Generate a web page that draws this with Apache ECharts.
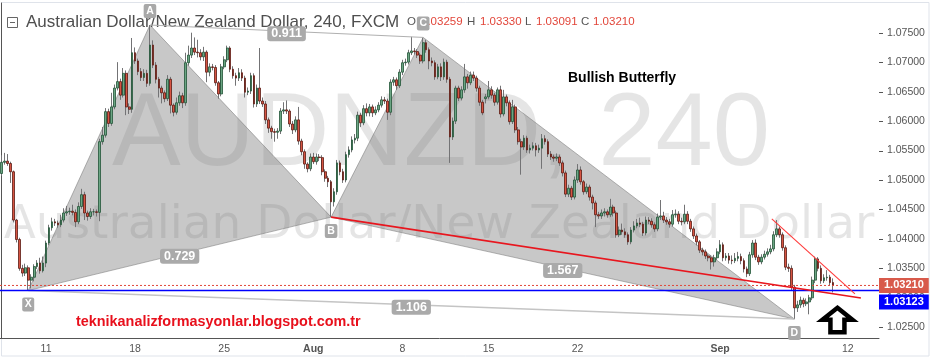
<!DOCTYPE html>
<html><head><meta charset="utf-8">
<script src="https://cdn.jsdelivr.net/npm/echarts@6/dist/echarts.min.js"></script>
<style>html,body{margin:0;padding:0;background:#fff}#c{width:935px;height:358px}</style>
</head><body><div id="c"></div>
<script>
// ---------- data ----------
const tickLabels = ['11','18','25','Aug','8','15','22','Sep','12'];
const tickAt = [15,45,75,105,135,164,194,242,285];
const slotCount = 296;
const priceTicks = [1.025,1.030,1.035,1.040,1.045,1.050,1.055,1.060,1.065,1.070,1.075];

const opens = [
1.0511,1.0530,1.0532,1.0528,1.0514,1.0432,1.0399,1.0350,1.0342,1.0351,
1.0330,1.0335,1.0353,1.0359,1.0346,1.0359,1.0393,1.0419,1.0429,1.0427,
1.0424,1.0432,1.0444,1.0446,1.0447,1.0445,1.0429,1.0455,1.0475,1.0444,
1.0438,1.0446,1.0446,1.0445,1.0565,1.0576,1.0616,1.0596,1.0624,1.0656,
1.0667,1.0644,1.0681,1.0624,1.0620,1.0716,1.0702,1.0684,1.0674,1.0681,
1.0664,1.0729,1.0695,1.0671,1.0656,1.0648,1.0638,1.0671,1.0627,1.0615,
1.0631,1.0643,1.0631,1.0699,1.0712,1.0724,1.0717,1.0716,1.0709,1.0717,
1.0683,1.0692,1.0691,1.0665,1.0646,1.0692,1.0704,1.0724,1.0688,1.0677,
1.0673,1.0682,1.0673,1.0649,1.0651,1.0677,1.0629,1.0656,1.0634,1.0629,
1.0602,1.0588,1.0582,1.0581,1.0583,1.0617,1.0619,1.0617,1.0595,1.0585,
1.0602,1.0566,1.0548,1.0527,1.0519,1.0539,1.0531,1.0539,1.0538,1.0514,
1.0503,1.0497,1.0463,1.0480,1.0529,1.0514,1.0500,1.0543,1.0551,1.0568,
1.0571,1.0610,1.0597,1.0621,1.0614,1.0624,1.0614,1.0619,1.0627,1.0636,
1.0634,1.0615,1.0666,1.0670,1.0660,1.0683,1.0699,1.0700,1.0716,1.0719,
1.0718,1.0712,1.0702,1.0733,1.0721,1.0702,1.0699,1.0675,1.0692,1.0675,
1.0700,1.0671,1.0573,1.0600,1.0656,1.0639,1.0653,1.0675,1.0665,1.0678,
1.0673,1.0656,1.0632,1.0638,1.0641,1.0653,1.0644,1.0632,1.0653,1.0612,
1.0641,1.0631,1.0599,1.0624,1.0585,1.0565,1.0556,1.0571,1.0551,1.0554,
1.0558,1.0551,1.0554,1.0570,1.0565,1.0544,1.0539,1.0537,1.0539,1.0529,
1.0512,1.0476,1.0486,1.0471,1.0500,1.0517,1.0497,1.0480,1.0488,1.0471,
1.0461,1.0441,1.0439,1.0444,1.0446,1.0441,1.0454,1.0444,1.0407,1.0415,
1.0412,1.0407,1.0395,1.0415,1.0422,1.0427,1.0425,1.0410,1.0432,1.0430,
1.0424,1.0417,1.0437,1.0439,1.0432,1.0429,1.0425,1.0441,1.0442,1.0430,
1.0429,1.0442,1.0430,1.0417,1.0405,1.0395,1.0381,1.0378,1.0371,1.0368,
1.0361,1.0368,1.0378,1.0390,1.0368,1.0371,1.0364,1.0363,1.0367,1.0370,
1.0363,1.0349,1.0341,1.0373,1.0393,1.0369,1.0361,1.0369,1.0374,1.0378,
1.0383,1.0407,1.0417,1.0407,1.0385,1.0352,1.0350,1.0318,1.0283,1.0288,
1.0296,1.0290,1.0293,1.0300,1.0330,1.0366,1.0350,1.0329,1.0334,1.0335,
1.03259];

const closes = [
1.0530,1.0532,1.0528,1.0514,1.0432,1.0399,1.0350,1.0342,1.0351,1.0330,
1.0335,1.0353,1.0359,1.0346,1.0359,1.0393,1.0419,1.0429,1.0427,1.0424,
1.0432,1.0444,1.0446,1.0447,1.0445,1.0429,1.0455,1.0475,1.0444,1.0438,
1.0446,1.0446,1.0445,1.0565,1.0576,1.0616,1.0596,1.0624,1.0656,1.0667,
1.0644,1.0681,1.0624,1.0620,1.0716,1.0702,1.0684,1.0674,1.0681,1.0664,
1.0729,1.0695,1.0671,1.0656,1.0648,1.0638,1.0671,1.0627,1.0615,1.0631,
1.0643,1.0631,1.0699,1.0712,1.0724,1.0717,1.0716,1.0709,1.0717,1.0683,
1.0692,1.0691,1.0665,1.0646,1.0692,1.0704,1.0724,1.0688,1.0677,1.0673,
1.0682,1.0673,1.0649,1.0651,1.0677,1.0629,1.0656,1.0634,1.0629,1.0602,
1.0588,1.0582,1.0581,1.0583,1.0617,1.0619,1.0617,1.0595,1.0585,1.0602,
1.0566,1.0548,1.0527,1.0519,1.0539,1.0531,1.0539,1.0538,1.0514,1.0503,
1.0497,1.0463,1.0480,1.0529,1.0514,1.0500,1.0543,1.0551,1.0568,1.0571,
1.0610,1.0597,1.0621,1.0614,1.0624,1.0614,1.0619,1.0627,1.0636,1.0634,
1.0615,1.0666,1.0670,1.0660,1.0683,1.0699,1.0700,1.0716,1.0719,1.0718,
1.0712,1.0702,1.0733,1.0721,1.0702,1.0699,1.0675,1.0692,1.0675,1.0700,
1.0671,1.0573,1.0600,1.0656,1.0639,1.0653,1.0675,1.0665,1.0678,1.0673,
1.0656,1.0632,1.0614,1.0641,1.0653,1.0644,1.0632,1.0653,1.0612,1.0641,
1.0631,1.0599,1.0624,1.0585,1.0565,1.0556,1.0571,1.0551,1.0554,1.0558,
1.0551,1.0554,1.0570,1.0565,1.0544,1.0539,1.0537,1.0539,1.0529,1.0512,
1.0476,1.0486,1.0471,1.0500,1.0517,1.0497,1.0480,1.0488,1.0471,1.0461,
1.0441,1.0439,1.0444,1.0446,1.0441,1.0454,1.0444,1.0407,1.0415,1.0412,
1.0407,1.0395,1.0415,1.0422,1.0427,1.0425,1.0410,1.0432,1.0430,1.0424,
1.0417,1.0437,1.0439,1.0432,1.0429,1.0425,1.0441,1.0442,1.0430,1.0429,
1.0442,1.0430,1.0417,1.0405,1.0395,1.0381,1.0378,1.0371,1.0368,1.0361,
1.0368,1.0378,1.0390,1.0368,1.0371,1.0364,1.0363,1.0367,1.0370,1.0363,
1.0349,1.0341,1.0373,1.0393,1.0369,1.0361,1.0369,1.0374,1.0378,1.0383,
1.0407,1.0417,1.0407,1.0385,1.0352,1.0350,1.0318,1.0283,1.0288,1.0296,
1.0290,1.0293,1.0300,1.0330,1.0366,1.0350,1.0329,1.0334,1.0335,1.03259,
1.03210];

const lows = [
1.0507,1.0526,1.0524,1.0495,1.0428,1.0394,1.0346,1.0336,1.0337,1.0312,
1.0316,1.0328,1.0349,1.0341,1.0343,1.0352,1.0389,1.0414,1.0422,1.0419,
1.0420,1.0428,1.0439,1.0441,1.0440,1.0420,1.0425,1.0451,1.0432,1.0431,
1.0434,1.0440,1.0438,1.0430,1.0560,1.0572,1.0590,1.0592,1.0620,1.0652,
1.0636,1.0640,1.0610,1.0612,1.0614,1.0697,1.0678,1.0668,1.0668,1.0658,
1.0660,1.0690,1.0664,1.0640,1.0630,1.0632,1.0634,1.0613,1.0608,1.0611,
1.0626,1.0622,1.0626,1.0694,1.0707,1.0712,1.0708,1.0703,1.0702,1.0666,
1.0676,1.0686,1.0660,1.0638,1.0642,1.0688,1.0700,1.0683,1.0672,1.0660,
1.0668,1.0668,1.0640,1.0644,1.0646,1.0623,1.0624,1.0629,1.0624,1.0595,
1.0580,1.0570,1.0565,1.0570,1.0578,1.0612,1.0612,1.0590,1.0578,1.0581,
1.0560,1.0542,1.0519,1.0513,1.0515,1.0527,1.0526,1.0532,1.0508,1.0497,
1.0488,1.0437,1.0455,1.0475,1.0508,1.0495,1.0496,1.0538,1.0547,1.0562,
1.0566,1.0590,1.0593,1.0608,1.0608,1.0607,1.0610,1.0615,1.0623,1.0629,
1.0602,1.0610,1.0660,1.0653,1.0656,1.0678,1.0694,1.0696,1.0712,1.0713,
1.0707,1.0697,1.0698,1.0716,1.0688,1.0693,1.0670,1.0671,1.0668,1.0670,
1.0665,1.0529,1.0568,1.0595,1.0634,1.0635,1.0648,1.0655,1.0661,1.0668,
1.0650,1.0626,1.0610,1.0630,1.0637,1.0638,1.0626,1.0628,1.0606,1.0608,
1.0625,1.0594,1.0595,1.0580,1.0560,1.0509,1.0551,1.0546,1.0545,1.0550,
1.0540,1.0546,1.0519,1.0560,1.0539,1.0534,1.0531,1.0532,1.0524,1.0506,
1.0471,1.0471,1.0466,1.0467,1.0495,1.0492,1.0475,1.0476,1.0465,1.0450,
1.0420,1.0434,1.0434,1.0438,1.0436,1.0437,1.0438,1.0402,1.0403,1.0407,
1.0402,1.0390,1.0391,1.0411,1.0418,1.0420,1.0405,1.0406,1.0425,1.0419,
1.0412,1.0413,1.0432,1.0427,1.0424,1.0419,1.0421,1.0436,1.0425,1.0423,
1.0425,1.0425,1.0412,1.0400,1.0389,1.0376,1.0372,1.0366,1.0362,1.0348,
1.0353,1.0364,1.0374,1.0362,1.0363,1.0358,1.0357,1.0359,1.0362,1.0357,
1.0343,1.0335,1.0337,1.0368,1.0364,1.0356,1.0357,1.0365,1.0370,1.0374,
1.0379,1.0403,1.0402,1.0380,1.0347,1.0344,1.0312,1.0264,1.0276,1.0283,
1.0284,1.0286,1.0272,1.0296,1.0325,1.0345,1.0324,1.0325,1.0329,1.0321,
1.03091];

const highs = [
1.0542,1.0546,1.0544,1.0531,1.0516,1.0434,1.0402,1.0356,1.0358,1.0355,
1.0340,1.0357,1.0364,1.0368,1.0370,1.0397,1.0424,1.0436,1.0434,1.0431,
1.0441,1.0452,1.0456,1.0453,1.0458,1.0450,1.0462,1.0485,1.0480,1.0448,
1.0452,1.0451,1.0450,1.0570,1.0590,1.0622,1.0621,1.0648,1.0662,1.0700,
1.0672,1.0690,1.0686,1.0630,1.0741,1.0725,1.0706,1.0690,1.0688,1.0687,
1.0763,1.0737,1.0700,1.0675,1.0660,1.0652,1.0678,1.0675,1.0630,1.0640,
1.0650,1.0648,1.0716,1.0728,1.0750,1.0742,1.0738,1.0722,1.0726,1.0720,
1.0698,1.0697,1.0695,1.0668,1.0697,1.0710,1.0728,1.0727,1.0693,1.0682,
1.0690,1.0688,1.0677,1.0657,1.0682,1.0681,1.0662,1.0724,1.0640,1.0634,
1.0606,1.0592,1.0587,1.0588,1.0622,1.0632,1.0635,1.0620,1.0600,1.0608,
1.0624,1.0570,1.0552,1.0530,1.0545,1.0546,1.0545,1.0544,1.0542,1.0518,
1.0507,1.0500,1.0486,1.0534,1.0533,1.0519,1.0548,1.0557,1.0574,1.0578,
1.0616,1.0614,1.0627,1.0630,1.0629,1.0628,1.0625,1.0632,1.0642,1.0641,
1.0638,1.0671,1.0675,1.0674,1.0688,1.0704,1.0706,1.0721,1.0743,1.0724,
1.0722,1.0716,1.0742,1.0738,1.0725,1.0708,1.0703,1.0697,1.0698,1.0706,
1.0704,1.0675,1.0606,1.0660,1.0660,1.0659,1.0697,1.0680,1.0684,1.0684,
1.0677,1.0660,1.0636,1.0646,1.0668,1.0659,1.0648,1.0657,1.0660,1.0653,
1.0645,1.0635,1.0636,1.0628,1.0590,1.0570,1.0576,1.0575,1.0560,1.0564,
1.0563,1.0560,1.0578,1.0576,1.0569,1.0549,1.0543,1.0545,1.0543,1.0533,
1.0516,1.0492,1.0490,1.0506,1.0527,1.0523,1.0500,1.0494,1.0492,1.0475,
1.0465,1.0446,1.0450,1.0452,1.0450,1.0468,1.0458,1.0448,1.0421,1.0426,
1.0418,1.0411,1.0420,1.0430,1.0434,1.0436,1.0429,1.0438,1.0437,1.0435,
1.0428,1.0443,1.0466,1.0446,1.0437,1.0434,1.0449,1.0450,1.0447,1.0436,
1.0458,1.0447,1.0434,1.0421,1.0409,1.0398,1.0385,1.0382,1.0375,1.0372,
1.0373,1.0384,1.0398,1.0394,1.0376,1.0376,1.0372,1.0376,1.0378,1.0375,
1.0367,1.0353,1.0378,1.0398,1.0399,1.0373,1.0374,1.0380,1.0384,1.0390,
1.0413,1.0432,1.0421,1.0411,1.0389,1.0358,1.0355,1.0322,1.0295,1.0302,
1.0300,1.0299,1.0305,1.0336,1.0370,1.0369,1.0355,1.0340,1.0347,1.0339,
1.03330];

// harmonic pattern points (bar index, price)
const patternNames = ['X','A','B','C','D'];
const patternIdx   = [9, 50, 111, 142, 267];
const patternPrice = [1.03123, 1.0763, 1.0437, 1.0742, 1.0264];
// ratio legs
const ratioFrom = ['X','A','B','X'];
const ratioTo   = ['B','C','D','D'];
const ratioText = ['0.729','0.911','1.567','1.106'];
// red trend lines (bar index, price)
const trendFromIdx = [111, 259.4];
const trendFromPrice = [1.0437, 1.04339];
const trendToIdx = [289.4, 287.4];
const trendToPrice = [1.02998, 1.03066];
// blue level (X) and arrow anchor
const levelX = 1.03123;
const arrowAt = [281.5, 1.0283];

// ---------- chart ----------
const FONT = '"Liberation Sans", Arial, sans-serif';
const cats = Array.from({length: slotCount}, (_, i) => {
  const k = tickAt.indexOf(i); return k >= 0 ? tickLabels[k] : '';
});
const fullData = closes.map((c, i) => [opens[i], c, lows[i], highs[i]]);
const bodyData = closes.map((c, i) => [opens[i], c, Math.min(opens[i], c), Math.max(opens[i], c)]);
const last = closes.length - 1;
const lastClose = closes[last];

function pt(api, name) {
  const k = patternNames.indexOf(name);
  return api.coord([patternIdx[k], patternPrice[k]]);
}

function renderFill(params, api) {
  const X = pt(api,'X'), A = pt(api,'A'), B = pt(api,'B'), C = pt(api,'C'), D = pt(api,'D');
  const st = {fill: 'rgba(110,110,110,0.38)', stroke: 'rgba(120,120,120,0.55)', lineWidth: 1};
  return {type: 'group', children: [
    {type: 'polygon', shape: {points: [X, A, B]}, style: st},
    {type: 'polygon', shape: {points: [B, C, D]}, style: st}
  ]};
}

function renderOverlay(params, api) {
  const ch = [];
  ch.push({type:'line', shape:{x1:pt(api,'A')[0],y1:pt(api,'A')[1],x2:pt(api,'C')[0],y2:pt(api,'C')[1]}, style:{stroke:'#b0b0b0', lineWidth:1}});
  ch.push({type:'line', shape:{x1:pt(api,'X')[0],y1:pt(api,'X')[1],x2:pt(api,'D')[0],y2:pt(api,'D')[1]}, style:{stroke:'#c4c4c4', lineWidth:1.5}});
  const xl = api.coord([-0.5, lastClose])[0], xr = api.coord([slotCount - 0.5, lastClose])[0];
  const yR = api.coord([0, lastClose])[1], yB = api.coord([0, levelX])[1];
  // axis ticks on the price scale
  priceTicks.forEach(v => {
    const y = Math.round(api.coord([0, v])[1]) + 0.5;
    ch.push({type:'line', shape:{x1:xr, y1:y, x2:xr + 4, y2:y}, style:{stroke:'#555', lineWidth:1}});
  });
  ch.push({type:'line', shape:{x1:xl, y1:yR, x2:xr, y2:yR}, style:{stroke:'#e0473a', lineWidth:1, lineDash:[2,2]}});
  ch.push({type:'line', shape:{x1:xl, y1:yB, x2:xr, y2:yB}, style:{stroke:'#0000ff', lineWidth:1.5}});
  const tw = [1.6, 1.1], tc = ['#e8161e', '#ff3b3b'];
  for (let k = 0; k < trendFromIdx.length; k++) {
    const a = api.coord([trendFromIdx[k], trendFromPrice[k]]), b = api.coord([trendToIdx[k], trendToPrice[k]]);
    ch.push({type:'line', shape:{x1:a[0],y1:a[1],x2:b[0],y2:b[1]}, style:{stroke:tc[k], lineWidth:tw[k]}});
  }
  for (let k = 0; k < ratioText.length; k++) {
    const a = pt(api, ratioFrom[k]), b = pt(api, ratioTo[k]);
    ch.push({type:'text', style:{text: ratioText[k], x:(a[0]+b[0])/2, y:(a[1]+b[1])/2 + 2.5,
      fill:'#fff', font:'bold 12.5px ' + FONT, align:'center', verticalAlign:'middle',
      backgroundColor:'#aaaaaa', padding:[1,4,1,4], borderRadius:3, lineHeight:13}});
  }
  patternNames.forEach((n, k) => {
    const p = pt(api, n);
    const above = (k % 2 === 1);
    const y = above ? Math.max(p[1] - 14, 6) : p[1] + 14;
    ch.push({type:'text', style:{text:n, x:p[0], y:y, fill:'#fff', font:'bold 10.5px ' + FONT,
      align:'center', verticalAlign:'middle', backgroundColor:'#a8a8a8', padding:[1.5,2.5,1.5,2.5], borderRadius:2, lineHeight:11}});
  });
  const boxR = yR, boxB = Math.max(yB, yR + 16.5);
  ch.push({type:'text', style:{text: lastClose.toFixed(5), x:xr, y:boxR, fill:'#fff', font:'bold 11px ' + FONT,
    align:'left', verticalAlign:'middle', backgroundColor:'#d85a4b', padding:[2,5,2,5], lineHeight:11}});
  ch.push({type:'text', style:{text: levelX.toFixed(5), x:xr, y:boxB, fill:'#fff', font:'bold 11px ' + FONT,
    align:'left', verticalAlign:'middle', backgroundColor:'#0000ff', padding:[2,5,2,5], lineHeight:11}});
  const t = api.coord(arrowAt);
  const rel = [[0,0],[15,12],[7,12],[7,24.5],[-7,24.5],[-7,12],[-15,12]];
  ch.push({type:'polygon', shape:{points: rel.map(r => [t[0]+r[0], t[1]+r[1]])},
    style:{fill:'#fff', stroke:'#000', lineWidth:4.5, lineJoin:'miter'}});
  return {type:'group', children: ch};
}

const hdr = (text, x, fill) => ({type:'text', z:3, silent:true,
  style:{text, x, y:22, fill, font:'11.5px "Liberation Sans"', textVerticalAlign:'middle'}});

const chart = echarts.init(document.getElementById('c'));
chart.setOption({
  animation: false,
  backgroundColor: '#fff',
  grid: {left: 0, right: 56, top: 3, bottom: 20},
  xAxis: [{
    type: 'category', data: cats, boundaryGap: true,
    axisLine: {onZero: false, lineStyle: {color: '#555', width: 1}},
    axisTick: {show: false},
    splitLine: {show: false},
    axisLabel: {
      interval: (i) => tickAt.includes(i),
      formatter: (v) => (v === 'Aug' || v === 'Sep') ? '{m|' + v + '}' : v,
      color: '#555', fontSize: 10.5, fontFamily: 'Liberation Sans', margin: 6,
      rich: {m: {fontWeight: 'bold', color: '#555', fontSize: 10.5, fontFamily: 'Liberation Sans'}}
    }
  }, {
    type: 'value', min: -0.5, max: slotCount - 0.5, show: false
  }],
  yAxis: {
    type: 'value', position: 'right', min: 1.02318, max: 1.08004,
    axisLine: {show: true, lineStyle: {color: '#555', width: 1}},
    axisTick: {show: false},
    axisLabel: {customValues: priceTicks, formatter: (v) => v.toFixed(5), color: '#555',
      fontSize: 10.5, fontFamily: 'Liberation Sans', margin: 8},
    splitLine: {show: false}
  },
  graphic: [
    {type:'rect', z:0, silent:true, shape:{x:1.5, y:2.5, width:927.5, height:353.5}, style:{fill:null, stroke:'#dfe3ea', lineWidth:1}},
    {type:'text', z:0, silent:true, style:{text:'AUDNZD, 240', x:441, y:137, fill:'rgba(0,0,0,0.1)', font:'103px "Liberation Sans"', textAlign:'center', textVerticalAlign:'middle'}},
    {type:'text', z:0, silent:true, style:{text:'Australian Dollar/New Zealand Dollar', x:439, y:226, fill:'rgba(0,0,0,0.1)', font:'47px "DejaVu Sans"', textAlign:'center', textVerticalAlign:'middle'}},
    {type:'rect', z:3, silent:true, shape:{x:7.5, y:17.5, width:10, height:10}, style:{fill:'#fff', stroke:'#666', lineWidth:1}},
    {type:'line', z:3, silent:true, shape:{x1:10, y1:22.5, x2:15, y2:22.5}, style:{stroke:'#666', lineWidth:1}},
    {type:'text', z:3, silent:true, style:{text:'Australian Dollar/New Zealand Dollar, 240, FXCM', x:26, y:22, fill:'#4f4f4f', font:'17px "Liberation Sans"', textVerticalAlign:'middle'}},
    hdr('O', 407, '#555'), hdr(opens[last].toFixed(5), 421, '#e2463a'),
    hdr('H', 467, '#555'), hdr(highs[last].toFixed(5), 480, '#e2463a'),
    hdr('L', 525, '#555'), hdr(lows[last].toFixed(5), 536, '#e2463a'),
    hdr('C', 581, '#555'), hdr(closes[last].toFixed(5), 593, '#e2463a'),
    {type:'text', z:3, silent:true, style:{text:'Bullish Butterfly', x:568, y:78, fill:'#000', font:'bold 14px "Liberation Sans"', textVerticalAlign:'middle'}},
    {type:'text', z:3, silent:true, style:{text:'teknikanalizformasyonlar.blogspot.com.tr', x:76, y:322, fill:'#e8101c', font:'bold 14.4px "Liberation Sans"', textVerticalAlign:'middle'}}
  ],
  series: [
    {type:'custom', name:'fill', xAxisIndex:1, yAxisIndex:0, z:1, silent:true, data:[[0, 1.05]], renderItem: renderFill},
    {type:'candlestick', name:'wicks', xAxisIndex:0, yAxisIndex:0, z:2, silent:true, barWidth:1,
      data: fullData,
      itemStyle:{color:'#737375', color0:'#737375', borderColor:'#737375', borderColor0:'#737375', borderWidth:1}},
    {type:'candlestick', name:'bodies', xAxisIndex:0, yAxisIndex:0, z:3, silent:true, barWidth:2.2,
      data: bodyData,
      itemStyle:{color:'#6ba583', color0:'#d75442', borderColor:'#225437', borderColor0:'#5b1a13', borderWidth:0.8}},
    {type:'custom', name:'overlay', xAxisIndex:1, yAxisIndex:0, z:5, silent:true, data:[[0, 1.05]], renderItem: renderOverlay}
  ]
});
</script>
</body></html>
